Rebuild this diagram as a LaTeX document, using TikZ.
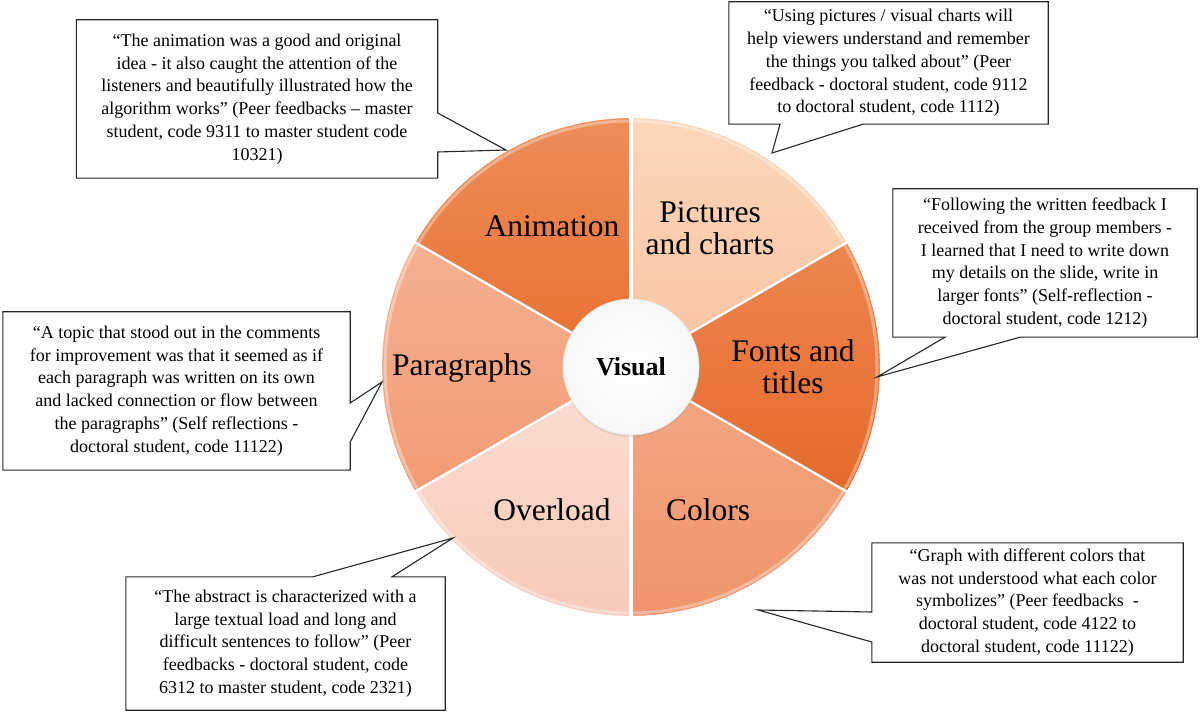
\documentclass[tikz,border=0pt]{standalone}
\usepackage{fontspec}
\setmainfont{LiberationSerif}[Extension=.ttf, UprightFont=*-Regular, BoldFont=*-Bold, ItalicFont=*-Italic, BoldItalicFont=*-BoldItalic]
\usetikzlibrary{shadows,calc}
\definecolor{anA}{HTML}{EE8D5A}\definecolor{anB}{HTML}{E8702F}
\definecolor{piA}{HTML}{FCD6BA}\definecolor{piB}{HTML}{F9C49F}
\definecolor{foA}{HTML}{EE8650}\definecolor{foB}{HTML}{E5692B}
\definecolor{paA}{HTML}{F6B091}\definecolor{paB}{HTML}{F29B75}
\definecolor{ovA}{HTML}{FCDFD4}\definecolor{ovB}{HTML}{F7C9B9}
\definecolor{coA}{HTML}{F5A884}\definecolor{coB}{HTML}{EE946C}
\begin{document}
\begin{tikzpicture}[x=1pt,y=1pt,
  callout/.style={inner sep=0pt, align=center, font=\fontsize{18}{22.8}\selectfont},
  outline/.style={draw=black!85, line width=1.1pt, line join=miter},
  wlabel/.style={align=center, inner sep=0pt, font=\fontsize{31.5}{32}\selectfont},
  wedge/.style={draw=white, line width=2.2pt, line join=round}
]
\useasboundingbox (0,0) rectangle (1200,713);
\fill[white] (0,0) rectangle (1200,713);
\coordinate (C) at (631,346);

% wedges
\draw[wedge, top color=anA, bottom color=anB] (C) -- ++(90:250) arc[start angle=90,end angle=150,radius=250] -- cycle;
\draw[wedge, top color=paA, bottom color=paB] (C) -- ++(150:250) arc[start angle=150,end angle=210,radius=250] -- cycle;
\draw[wedge, top color=ovA, bottom color=ovB] (C) -- ++(210:250) arc[start angle=210,end angle=270,radius=250] -- cycle;
\draw[wedge, top color=coA, bottom color=coB] (C) -- ++(270:250) arc[start angle=270,end angle=330,radius=250] -- cycle;
\draw[wedge, top color=foA, bottom color=foB] (C) -- ++(-30:250) arc[start angle=-30,end angle=30,radius=250] -- cycle;
\draw[wedge, top color=piA, bottom color=piB] (C) -- ++(30:250) arc[start angle=30,end angle=90,radius=250] -- cycle;
\draw[white, line width=4pt] (C) -- ++(90:250);
\draw[white, line width=4pt] (C) -- ++(270:250);
\draw[white, opacity=0.35, line width=3pt] (C) circle[radius=246];

% centre
\node[circle, minimum size=136pt, inner sep=0pt, inner color=white, outer color=black!3,
  draw=black!10, line width=0.6pt, drop shadow={opacity=0.2, shadow xshift=0pt, shadow yshift=-2pt},
  font=\bfseries\fontsize{26}{26}\selectfont] (vis) at (C) {Visual};

% wedge labels
\node[wlabel] (lan) at (552,487) {Animation};
\node[wlabel] (lpi) at (710,485) {Pictures\\and charts};
\node[wlabel] (lfo) at (793,346) {Fonts and\\titles};
\node[wlabel] (lpa) at (462,345) {Paragraphs};
\node[wlabel] (lov) at (552,203) {Overload};
\node[wlabel] (lco) at (708,203) {Colors};

% callout 1
\node[callout, minimum width=361pt, minimum height=158pt] (q1) at (257,614) {“The animation was a good and original\\ idea - it also caught the attention of the\\ listeners and beautifully illustrated how the\\ algorithm works” (Peer feedbacks – master\\ student, code 9311 to master student code\\ 10321)};
\coordinate (t1) at (506,563);
\draw[outline] (q1.north west) -- (q1.north east) -- (q1.north east |- 0,600) -- (t1) -- (q1.north east |- 0,561) -- (q1.south east) -- (q1.south west) -- cycle;

% callout 2
\node[callout, minimum width=319pt, minimum height=122pt] (q2) at (888.5,650) {“Using pictures / visual charts will\\ help viewers understand and remember\\ the things you talked about” (Peer\\ feedback - doctoral student, code 9112\\ to doctoral student, code 1112)};
\coordinate (t2) at (772,560);
\draw[outline] (q2.north west) -- (q2.north east) -- (q2.south east) -- (q2.south west -| 863,0) -- (t2) -- (q2.south west -| 780,0) -- (q2.south west) -- cycle;

% callout 3
\node[callout, minimum width=304pt, minimum height=148pt] (q3) at (1045,450) {“Following the written feedback I\\ received from the group members -\\ I learned that I need to write down\\ my details on the slide, write in\\ larger fonts” (Self-reflection -\\ doctoral student, code 1212)};
\coordinate (t3) at (877,336);
\draw[outline] (q3.north west) -- (q3.north east) -- (q3.south east) -- (q3.south west -| 1020,0) -- (t3) -- (q3.south west -| 945,0) -- (q3.south west) -- cycle;

% callout 4
\node[callout, minimum width=347pt, minimum height=158pt] (q4) at (176.5,322) {“A topic that stood out in the comments\\ for improvement was that it seemed as if\\ each paragraph was written on its own\\ and lacked connection or flow between\\ the paragraphs” (Self reflections -\\ doctoral student, code 11122)};
\coordinate (t4) at (382,331);
\draw[outline] (q4.north west) -- (q4.north east) -- (q4.north east |- 0,310) -- (t4) -- (q4.north east |- 0,271) -- (q4.south east) -- (q4.south west) -- cycle;

% callout 5
\node[callout, minimum width=319pt, minimum height=133pt] (q5) at (285.5,69.5) {“The abstract is characterized with a\\ large textual load and long and\\ difficult sentences to follow” (Peer\\ feedbacks - doctoral student, code\\ 6312 to master student, code 2321)};
\coordinate (t5) at (453,175);
\draw[outline] (q5.north west) -- (q5.north west -| 313,0) -- (t5) -- (q5.north west -| 392,0) -- (q5.north east) -- (q5.south east) -- (q5.south west) -- cycle;

% callout 6
\node[callout, minimum width=311pt, minimum height=119pt] (q6) at (1027.5,110.5) {“Graph with different colors that\\ was not understood what each color\\ symbolizes” (Peer feedbacks\ \ -\\ doctoral student, code 4122 to\\ doctoral student, code 11122)};
\coordinate (t6) at (758,103);
\draw[outline] (q6.north west) -- (q6.north east) -- (q6.south east) -- (q6.south west) -- (q6.south west |- 0,71) -- (t6) -- (q6.south west |- 0,101) -- cycle;
\end{tikzpicture}
\end{document}
